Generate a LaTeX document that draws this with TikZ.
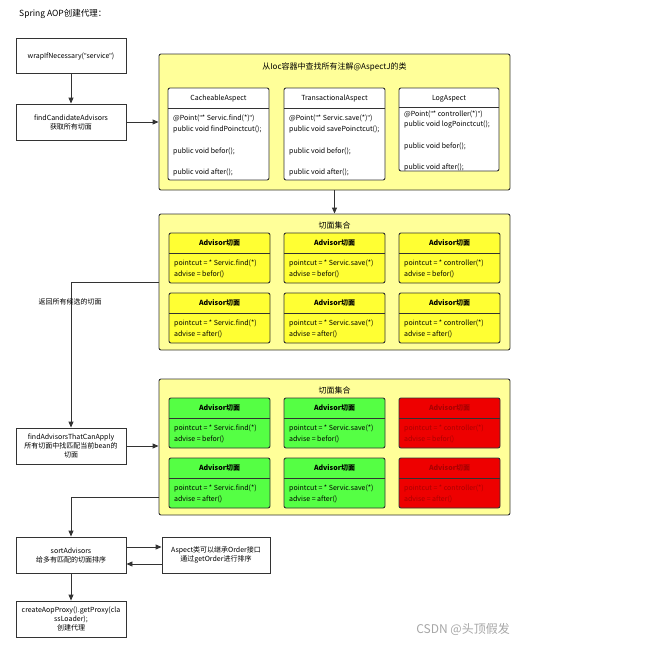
\documentclass[tikz,border=0pt]{standalone}
\usepackage{fontspec}
\setmainfont{Noto Sans CJK SC}
\newfontfamily\latf{Liberation Sans}
\newcommand\dq{{\latf\char34}}
\usetikzlibrary{arrows.meta}
\definecolor{bigy}{HTML}{FFFF99}
\definecolor{advy}{HTML}{FFFF33}
\definecolor{advg}{HTML}{55FF44}
\definecolor{advr}{HTML}{EE0000}
\definecolor{dred}{HTML}{AA0000}
\definecolor{ln}{HTML}{333333}
\tikzset{
  box/.style={draw=ln,line width=0.9pt,fill=white,align=center,inner sep=1pt,font=\fontsize{7}{9}\selectfont},
  big/.style={draw=ln,line width=0.9pt,fill=bigy,rounded corners=2pt},
  arr/.style={draw=ln,line width=0.9pt,-{Triangle[length=6pt,width=5pt]}},
  txt/.style={font=\fontsize{7}{9}\selectfont,inner sep=0pt,anchor=west},
}
% x, y, fill, line1, line2, textcolor, name
\newcommand\advbox[7]{%
  \draw[draw=ln,line width=0.9pt,fill=#3,rounded corners=2pt] (#1,#2) rectangle ++(101,50);
  \draw[ln,line width=0.9pt] (#1,#2+20) -- ++(101,0);
  \node[font=\bfseries\fontsize{7}{9}\selectfont,text=#6,inner sep=0pt] (#7h) at (#1+50.5,#2+10) {Advisor切面};
  \node[txt,text=#6] (#7a) at (#1+5,#2+30) {#4};
  \node[txt,text=#6] (#7b) at (#1+5,#2+41) {#5};
}
% x, y, w, h, header height, title, name
\newcommand\clsbox[7]{%
  \draw[draw=ln,line width=0.9pt,fill=white,rounded corners=2pt] (#1,#2) rectangle ++(#3,#4);
  \draw[ln,line width=0.9pt] (#1,#2+#5) -- ++(#3,0);
  \node[font=\fontsize{7}{9}\selectfont,inner sep=0pt] (#7) at (#1+#3/2,#2+11) {#6};
}
\begin{document}
\begin{tikzpicture}[x=1pt,y=-1pt]
\useasboundingbox (0,0) rectangle (647,646);
\node[font=\fontsize{8.5}{10}\selectfont,anchor=west,inner sep=0pt] (title) at (19,14) {Spring AOP创建代理：};

\node[box,minimum width=110pt,minimum height=35pt] (wrap) at (71,56) {wrapIfNecessary(\dq service\dq)};
\node[box,minimum width=110pt,minimum height=36pt] (fc) at (71,122) {findCandidateAdvisors\\获取所有切面};
\node[box,minimum width=110pt,minimum height=36pt] (fa) at (71,446) {findAdvisorsThatCanApply\\所有切面中找匹配当前bean的\\切面};
\node[box,minimum width=110pt,minimum height=36pt] (sort) at (71,555) {sortAdvisors\\给多有匹配的切面排序};
\node[box,minimum width=108pt,minimum height=36pt] (asp) at (216,555) {Aspect类可以继承Order接口\\通过getOrder进行排序};
\node[box,minimum width=110pt,minimum height=36pt] (cp) at (71,619) {createAopProxy().getProxy(cla\\ssLoader);\\创建代理};

% big box 1
\node[big,minimum width=351pt,minimum height=136pt,inner sep=0pt] (b1) at (334.5,122) {};
\node[font=\fontsize{8}{10}\selectfont,inner sep=0pt] (b1t) at (334.5,67) {从Ioc容器中查找所有注解@AspectJ的类};
\clsbox{168}{88}{101}{92}{20}{CacheableAspect}{c1}
\node[txt] (c1a) at (173,118) {@Point(\dq* Servic.find(*)\dq)};
\node[txt] (c1b) at (173,129) {public void findPoinctcut();};
\node[txt] (c1c) at (173,151) {public void befor();};
\node[txt] (c1d) at (173,172) {public void after();};
\clsbox{284}{88}{101}{92}{20}{TransactionalAspect}{c2}
\node[txt] (c2a) at (289,118) {@Point(\dq* Servic.save(*)\dq)};
\node[txt] (c2b) at (289,129) {public void savePoinctcut();};
\node[txt] (c2c) at (289,151) {public void befor();};
\node[txt] (c2d) at (289,172) {public void after();};
\clsbox{399}{88}{100}{83}{19}{LogAspect}{c3}
\node[txt] (c3a) at (404,114) {@Point(\dq* controller(*)\dq)};
\node[txt] (c3b) at (404,125) {public void logPoinctcut();};
\node[txt] (c3c) at (404,146) {public void befor();};
\node[txt] (c3d) at (404,167) {public void after();};

% big box 2
\node[big,minimum width=351pt,minimum height=136pt,inner sep=0pt] (b2) at (334.5,282) {};
\node[font=\fontsize{8}{10}\selectfont,inner sep=0pt] (b2t) at (334.5,225) {切面集合};
\advbox{169}{233}{advy}{pointcut = * Servic.find(*)}{advise = befor()}{black}{y1}
\advbox{284}{233}{advy}{pointcut = * Servic.save(*)}{advise = befor()}{black}{y2}
\advbox{399}{233}{advy}{pointcut = * controller(*)}{advise = befor()}{black}{y3}
\advbox{169}{293}{advy}{pointcut = * Servic.find(*)}{advise = after()}{black}{y4}
\advbox{284}{293}{advy}{pointcut = * Servic.save(*)}{advise = after()}{black}{y5}
\advbox{399}{293}{advy}{pointcut = * controller(*)}{advise = after()}{black}{y6}

% big box 3
\node[big,minimum width=351pt,minimum height=136pt,inner sep=0pt] (b3) at (334.5,447) {};
\node[font=\fontsize{8}{10}\selectfont,inner sep=0pt] (b3t) at (334.5,390) {切面集合};
\advbox{169}{398}{advg}{pointcut = * Servic.find(*)}{advise = befor()}{black}{g1}
\advbox{284}{398}{advg}{pointcut = * Servic.save(*)}{advise = befor()}{black}{g2}
\advbox{399}{398}{advr}{pointcut = * controller(*)}{advise = befor()}{dred}{r1}
\advbox{169}{458}{advg}{pointcut = * Servic.find(*)}{advise = after()}{black}{g3}
\advbox{284}{458}{advg}{pointcut = * Servic.save(*)}{advise = after()}{black}{g4}
\advbox{399}{458}{advr}{pointcut = * controller(*)}{advise = after()}{dred}{r2}

% connectors
\draw[arr] (wrap) -- (fc);
\draw[arr] (fc.east) -- (fc.east -| b1.west);
\draw[arr] (b1) -- (b2);
\draw[arr] (b2.west) -| (fa.north);
\node[font=\fontsize{7}{9}\selectfont,inner sep=0pt] (lbl) at (70,302) {返回所有候选的切面};
\draw[arr] (fa.east) -- (fa.east -| b3.west);
\coordinate (b3r) at (159,497);
\draw[arr] (b3r) -| (sort.north);
\draw[arr] ([yshift=8pt]sort.east) -- ([yshift=8pt]asp.west);
\draw[arr] ([yshift=-9pt]asp.west) -- ([yshift=-9pt]sort.east);
\draw[arr] (sort) -- (cp);

\node[font=\fontsize{12}{14}\selectfont,text=gray!70,anchor=east,inner sep=0pt] (wm) at (510,629) {CSDN @头顶假发};
\end{tikzpicture}
\end{document}
